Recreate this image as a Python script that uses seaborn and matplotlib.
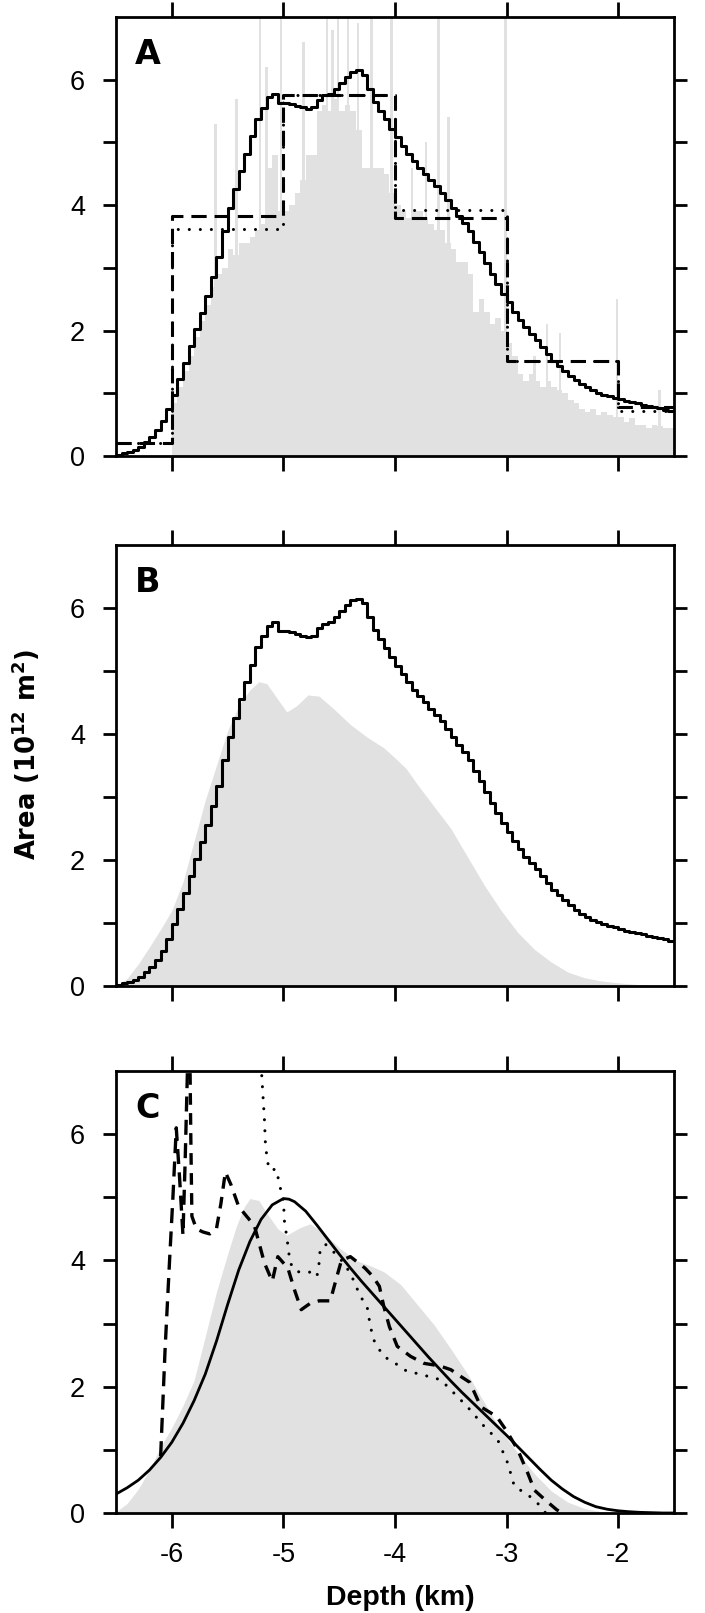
import numpy as np
import pandas as pd
import matplotlib
matplotlib.use("Agg")
import matplotlib.pyplot as plt
import seaborn as sns

# ---- data ----
# black stepped curve (panels A and B), bin left edges every 0.05 km from -6.5
step_x0 = -6.5
step_dx = 0.05
black_step = [
    0.02, 0.04, 0.07, 0.10, 0.15, 0.22, 0.30, 0.42, 0.56, 0.75,
    0.98, 1.22, 1.48, 1.75, 2.02, 2.28, 2.55, 2.85, 3.18, 3.58,
    3.95, 4.25, 4.55, 4.82, 5.10, 5.38, 5.55, 5.72, 5.78, 5.63,
    5.63, 5.62, 5.58, 5.56, 5.54, 5.56, 5.68, 5.75, 5.77, 5.85,
    5.95, 6.05, 6.12, 6.15, 6.08, 5.85, 5.65, 5.50, 5.37, 5.22,
    5.08, 4.95, 4.82, 4.70, 4.60, 4.50, 4.40, 4.30, 4.20, 4.08,
    3.95, 3.82, 3.72, 3.58, 3.42, 3.25, 3.08, 2.90, 2.74, 2.58,
    2.45, 2.30, 2.17, 2.05, 1.95, 1.85, 1.74, 1.63, 1.52, 1.44,
    1.36, 1.28, 1.21, 1.15, 1.10, 1.05, 1.01, 0.98, 0.95, 0.93,
    0.91, 0.88, 0.86, 0.84, 0.82, 0.80, 0.78, 0.76, 0.74, 0.72,
]

# panel A: histogram body (bins of 0.05 km from -6.0)
hist_x0 = -6.0
hist_dx = 0.05
hist_a = [
    0.85, 1.10, 1.35, 1.60, 1.90, 2.15, 2.40, 2.70, 2.90, 3.00,
    3.30, 3.20, 3.40, 3.40, 3.50, 3.60, 3.70, 4.60, 4.80, 3.90,
    3.90, 4.00, 4.20, 4.40, 4.80, 4.80, 5.50, 5.60, 5.50, 5.70,
    5.50, 5.60, 5.50, 5.20, 4.60, 4.60, 4.60, 4.60, 4.50, 4.20,
    4.00, 3.90, 3.80, 3.90, 3.90, 3.80, 3.70, 3.60, 3.60, 3.40,
    3.30, 3.10, 3.10, 2.90, 2.30, 2.50, 2.30, 2.10, 2.20, 2.00,
    1.80, 1.60, 1.30, 1.20, 1.30, 1.20, 1.10, 1.20, 1.10, 1.05,
    1.00, 0.90, 0.85, 0.75, 0.70, 0.75, 0.65, 0.70, 0.65, 0.62,
    0.62, 0.55, 0.60, 0.50, 0.50, 0.45, 0.50, 0.48, 0.45, 0.45,
]
# panel A: narrow spikes of the same histogram
spike_x = [-5.61, -5.42, -5.21, -5.15, -5.02, -4.82, -4.61, -4.56, -4.51, -4.42,
           -4.33, -4.21, -4.03, -3.85, -3.72, -3.61, -3.52, -3.01, -2.75, -2.64,
           -2.52, -2.01, -1.63]
spike_h = [5.30, 5.70, 7.50, 6.20, 7.50, 6.60, 7.50, 6.80, 7.50, 7.50,
           6.90, 7.50, 7.50, 4.60, 5.00, 7.50, 5.40, 7.50, 1.60, 2.10,
           1.96, 2.50, 1.05]

# panel A: 1 km binned estimates
coarse_edges = [-6.5, -6.0, -5.0, -4.0, -3.0, -2.0, -1.5]
coarse_dashed = [0.20, 3.83, 5.75, 3.80, 1.52, 0.78]
coarse_dotted = [0.20, 3.62, 5.75, 3.92, 1.52, 0.72]

# panel B: grey area
b_x = [-6.5, -6.4, -6.3, -6.2, -6.1, -6.0, -5.9, -5.8, -5.7, -5.6, -5.5, -5.4,
       -5.3, -5.22, -5.15, -5.05, -4.97, -4.88, -4.78, -4.68, -4.55, -4.4,
       -4.25, -4.1, -4.0, -3.9, -3.8, -3.65, -3.5, -3.35, -3.2, -3.05, -2.9,
       -2.75, -2.6, -2.45, -2.3, -2.15, -2.0, -1.8, -1.5]
b_y = [0.0, 0.12, 0.35, 0.62, 0.90, 1.20, 1.65, 2.30, 2.95, 3.50, 4.05, 4.45,
       4.70, 4.83, 4.80, 4.55, 4.35, 4.45, 4.62, 4.60, 4.40, 4.15,
       3.95, 3.78, 3.62, 3.45, 3.20, 2.85, 2.50, 2.05, 1.60, 1.20, 0.85,
       0.58, 0.38, 0.22, 0.13, 0.08, 0.05, 0.02, 0.0]

# panel C: grey area
c_x = [-6.5, -6.4, -6.3, -6.2, -6.1, -6.0, -5.9, -5.8, -5.7, -5.6, -5.5, -5.42,
       -5.35, -5.3, -5.22, -5.15, -5.05, -4.97, -4.85, -4.76, -4.65, -4.5,
       -4.35, -4.2, -4.1, -3.95, -3.8, -3.65, -3.5, -3.35, -3.2, -3.05, -2.9,
       -2.75, -2.6, -2.45, -2.3, -2.15, -2.0, -1.5]
c_y = [0.02, 0.15, 0.38, 0.68, 1.05, 1.35, 1.70, 2.10, 2.80, 3.50, 4.10, 4.55,
       4.85, 4.98, 4.95, 4.75, 4.50, 4.40, 4.52, 4.58, 4.45, 4.20,
       4.00, 3.90, 3.82, 3.62, 3.30, 2.98, 2.60, 2.20, 1.75, 1.30, 0.95,
       0.62, 0.35, 0.17, 0.07, 0.02, 0.0, 0.0]

# panel C: smooth fitted curve
fit_x = [-6.5, -6.4, -6.3, -6.2, -6.1, -6.0, -5.9, -5.8, -5.7, -5.6, -5.5,
         -5.4, -5.3, -5.2, -5.1, -5.0, -4.95, -4.9, -4.8, -4.7, -4.6, -4.5,
         -4.4, -4.3, -4.2, -4.1, -4.0, -3.9, -3.8, -3.7, -3.6, -3.5, -3.4,
         -3.3, -3.2, -3.1, -3.0, -2.9, -2.8, -2.7, -2.6, -2.5, -2.4, -2.3,
         -2.2, -2.1, -2.0, -1.9, -1.8, -1.7, -1.6, -1.5]
fit_y = [0.30, 0.40, 0.52, 0.68, 0.88, 1.12, 1.42, 1.78, 2.20, 2.72, 3.30,
         3.85, 4.30, 4.65, 4.88, 4.98, 4.97, 4.93, 4.78, 4.56, 4.33, 4.10,
         3.88, 3.67, 3.47, 3.27, 3.07, 2.87, 2.67, 2.47, 2.28, 2.09, 1.91,
         1.74, 1.57, 1.40, 1.23, 1.05, 0.87, 0.69, 0.52, 0.38, 0.26, 0.17,
         0.10, 0.06, 0.035, 0.02, 0.01, 0.005, 0.0, 0.0]

# panel C: first dashed estimate (long dashes)
d1_x = [-6.10, -6.06, -6.02, -5.99, -5.96, -5.93, -5.90, -5.88, -5.86, -5.84]
d1_y = [0.90, 2.60, 4.00, 5.00, 6.10, 5.30, 4.40, 5.60, 7.00, 7.60]

# panel C: second dashed estimate
d2_x = [-5.84, -5.83, -5.82, -5.78, -5.72, -5.66, -5.60, -5.56, -5.52, -5.47,
        -5.40, -5.33, -5.26, -5.17, -5.10, -5.05, -4.96, -4.90, -4.84, -4.76,
        -4.68, -4.58, -4.52, -4.48, -4.40, -4.27, -4.20, -4.14, -4.10, -4.05,
        -3.98, -3.86, -3.74, -3.60, -3.50, -3.40, -3.33, -3.23, -3.09, -3.00,
        -2.90, -2.81, -2.75, -2.65, -2.55, -2.50]
d2_y = [7.60, 6.00, 4.70, 4.50, 4.45, 4.42, 4.50, 4.90, 5.40, 5.20,
        4.85, 4.70, 4.55, 3.96, 3.67, 4.06, 3.88, 3.53, 3.22, 3.32,
        3.36, 3.36, 3.75, 4.00, 4.06, 3.88, 3.75, 3.59, 3.27, 2.95,
        2.64, 2.48, 2.37, 2.33, 2.27, 2.15, 2.07, 1.68, 1.53, 1.30,
        1.00, 0.63, 0.36, 0.20, 0.05, 0.0]

# panel C: dotted estimate
dot_x = [-5.20, -5.17, -5.16, -5.13, -5.06, -5.04, -5.00, -4.99, -4.97, -4.94,
         -4.88, -4.77, -4.70, -4.68, -4.67, -4.62, -4.50, -4.40, -4.31, -4.25,
         -4.22, -4.19, -4.16, -4.10, -3.98, -3.89, -3.80, -3.59, -3.50, -3.35,
         -3.20, -3.08, -2.99, -2.93, -2.81, -2.72, -2.65]
dot_y = [7.10, 6.23, 5.80, 5.44, 5.44, 5.23, 4.96, 4.60, 4.38, 3.96,
         3.82, 3.82, 3.74, 3.96, 4.19, 4.25, 4.05, 3.80, 3.43, 3.27,
         2.95, 2.74, 2.64, 2.48, 2.35, 2.24, 2.21, 2.11, 1.95, 1.68,
         1.37, 1.16, 0.79, 0.42, 0.29, 0.15, 0.0]

GREY = "#e1e1e1"
DOTS = (0.01, 3.6)

sns.set_style("ticks", {"axes.edgecolor": "black", "xtick.color": "black",
                        "ytick.color": "black", "text.color": "black",
                        "axes.labelcolor": "black"})
plt.rcParams['font.family'] = ['Liberation Sans', 'DejaVu Sans']
plt.rcParams['axes.unicode_minus'] = False

fig = plt.figure(figsize=(7.05, 16.13), dpi=100)
left, width = 116 / 705, 558 / 705
axA = fig.add_axes([left, 1 - 456 / 1613, width, 439 / 1613])
axB = fig.add_axes([left, 1 - 986 / 1613, width, 441 / 1613])
axC = fig.add_axes([left, 1 - 1513 / 1613, width, 442 / 1613])

step_edges = step_x0 + step_dx * np.arange(len(black_step) + 1)
step_vals = np.append(black_step, black_step[-1])
hist_edges = hist_x0 + hist_dx * np.arange(len(hist_a) + 1)
hist_df = pd.DataFrame({"depth": hist_edges[:-1] + hist_dx / 2, "area": hist_a})

# panel A
sns.histplot(data=hist_df, x="depth", weights="area", bins=list(hist_edges),
             element="step", fill=True, color=GREY, alpha=1, linewidth=0,
             ax=axA, zorder=1)
axA.bar(spike_x, spike_h, width=0.022, color=GREY, linewidth=0, zorder=1)
axA.step(coarse_edges, np.append(coarse_dashed, coarse_dashed[-1]), where="post",
         color="black", lw=2.2, dashes=(5, 2.6), zorder=3)
axA.step(coarse_edges, np.append(coarse_dotted, coarse_dotted[-1]), where="post",
         color="black", lw=2.2, dashes=DOTS, dash_capstyle="round", zorder=3)
axA.step(step_edges, step_vals, where="post", color="black", lw=2.2, zorder=4)

# panel B
axB.fill_between(b_x, b_y, color=GREY, lw=0, zorder=1)
axB.step(step_edges, step_vals, where="post", color="black", lw=2.2, zorder=4)

# panel C
axC.fill_between(c_x, c_y, color=GREY, lw=0, zorder=1)
axC.plot(d1_x, d1_y, color="black", lw=2.4, dashes=(4.5, 2.5), zorder=3)
axC.plot(d2_x, d2_y, color="black", lw=2.4, dashes=(3.5, 2.5), zorder=3)
axC.plot(dot_x, dot_y, color="black", lw=2.2, dashes=DOTS,
         dash_capstyle="round", zorder=3)
sns.lineplot(x=fit_x, y=fit_y, sort=False, estimator=None, color="black", lw=2.0,
             ax=axC, zorder=4)

for ax, letter in zip([axA, axB, axC], "ABC"):
    ax.set_xlim(-6.5, -1.5)
    ax.set_ylim(0, 7)
    ax.set_xticks([-6, -5, -4, -3, -2])
    ax.set_yticks([0, 2, 4, 6])
    ax.set_yticks([1, 3, 5], minor=True)
    ax.set_xlabel("")
    ax.set_ylabel("")
    for sp in ax.spines.values():
        sp.set_visible(True)
        sp.set_linewidth(2)
        sp.set_zorder(6)
    ax.tick_params(which="both", direction="out", width=2, colors="black",
                   top=True, right=True, labelsize=19.5)
    ax.tick_params(axis="y", which="both", length=9.4, pad=13)
    ax.tick_params(axis="x", length=10.8, pad=10)
    ax.tick_params(labelbottom=(letter == "C"), labeltop=False, labelright=False)
    ax.text(-6.33, 6.25, letter, fontsize=24, fontweight="bold",
            family="DejaVu Sans", va="baseline", ha="left", zorder=5)

fig.text(26 / 705, 1 - 755 / 1613, r"Area (10$^{\mathbf{12}}$ m$^{\mathbf{2}}$)",
         rotation=90, ha="center", va="center", fontsize=18.5, fontweight="bold",
         family="DejaVu Sans")
fig.text(400 / 705, 2 / 1613, "Depth (km)", ha="center", va="bottom",
         fontsize=20.5, fontweight="bold")

fig.savefig("out.png", dpi=100)
